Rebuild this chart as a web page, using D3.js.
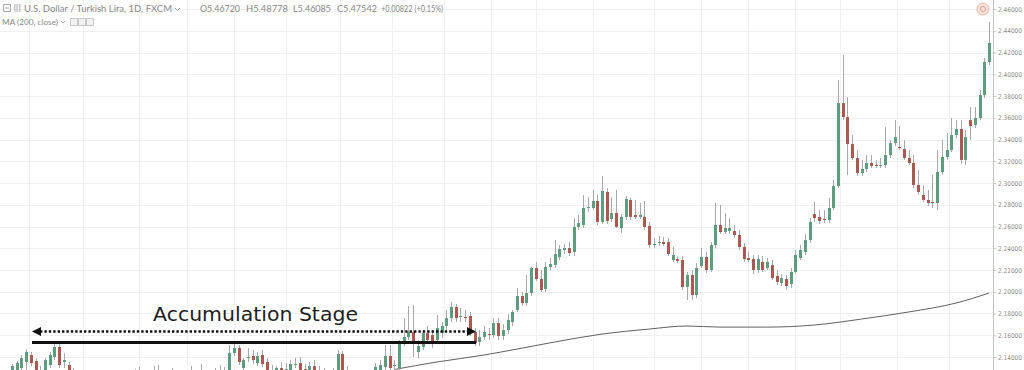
<!DOCTYPE html>
<html><head><meta charset="utf-8">
<script src="https://cdn.jsdelivr.net/npm/d3@7"></script>
<style>html,body{margin:0;padding:0;background:#fff;overflow:hidden}svg{display:block}</style>
</head><body>
<svg id="c" width="1024" height="370"></svg>
<script>
const opens = [
2.1262,2.1280,2.1298,2.1354,2.1418,2.1363,2.1280,2.1262,2.1326,2.1400,
2.1492,2.1354,2.1326,2.1234,2.1188,2.1151,2.1206,2.1170,2.1114,2.1142,
2.1097,2.1133,2.1206,2.1160,2.1105,2.1151,2.1188,2.1243,2.1197,2.1142,
2.1206,2.1262,2.1216,2.1170,2.1225,2.1188,2.1133,2.1179,2.1234,2.1206,
2.1243,2.1206,2.1160,2.1197,2.1252,2.1225,2.1280,2.1436,2.1482,2.1298,
2.1390,2.1409,2.1344,2.1418,2.1354,2.1280,2.1225,2.1298,2.1280,2.1280,
2.1326,2.1344,2.1289,2.1243,2.1317,2.1262,2.1262,2.1225,2.1188,2.1262,
2.1427,2.1280,2.1225,2.1170,2.1206,2.1197,2.1151,2.1225,2.1262,2.1308,
2.1409,2.1317,2.1298,2.1528,2.1584,2.1630,2.1446,2.1492,2.1620,2.1602,
2.1556,2.1620,2.1685,2.1758,2.1860,2.1768,2.1768,2.1777,2.1630,2.1538,
2.1584,2.1611,2.1602,2.1712,2.1593,2.1648,2.1722,2.1832,2.1961,2.1896,
2.1988,2.2218,2.2117,2.2025,2.2228,2.2246,2.2320,2.2384,2.2402,2.2366,
2.2596,2.2614,2.2770,2.2770,2.2835,2.2642,2.2918,2.2669,2.2724,2.2586,
2.2688,2.2844,2.2706,2.2688,2.2688,2.2605,2.2430,2.2448,2.2458,2.2458,
2.2292,2.2301,2.2292,2.2044,2.2154,2.1970,2.2237,2.2320,2.2200,2.2430,
2.2614,2.2550,2.2559,2.2559,2.2522,2.2412,2.2310,2.2301,2.2200,2.2274,
2.2218,2.2246,2.2145,2.2080,2.2117,2.2071,2.2182,2.2310,2.2366,2.2476,
2.2715,2.2688,2.2669,2.2660,2.2770,2.2973,2.3735,2.3606,2.3358,2.3230,
2.3092,2.3129,2.3184,2.3166,2.3157,2.3166,2.3257,2.3367,2.3331,2.3312,
2.3230,2.3184,2.2982,2.2890,2.2844,2.2826,2.2816,2.3101,2.3239,2.3303,
2.3441,2.3496,2.3212,2.3579,2.3533,2.3597,2.3809,2.4113];
const highs = [
2.1335,2.1363,2.1418,2.1473,2.1446,2.1390,2.1317,2.1390,2.1446,2.1528,
2.1519,2.1436,2.1354,2.1298,2.1262,2.1225,2.1280,2.1234,2.1188,2.1206,
2.1160,2.1243,2.1280,2.1216,2.1188,2.1225,2.1289,2.1308,2.1262,2.1234,
2.1317,2.1326,2.1280,2.1252,2.1298,2.1243,2.1216,2.1271,2.1317,2.1280,
2.1335,2.1271,2.1234,2.1298,2.1326,2.1308,2.1510,2.1519,2.1510,2.1390,
2.1482,2.1464,2.1446,2.1464,2.1390,2.1326,2.1317,2.1354,2.1344,2.1372,
2.1390,2.1400,2.1335,2.1354,2.1372,2.1317,2.1298,2.1262,2.1298,2.1464,
2.1455,2.1317,2.1280,2.1262,2.1262,2.1243,2.1243,2.1344,2.1372,2.1510,
2.1510,2.1372,2.1556,2.1758,2.1869,2.1878,2.1556,2.1648,2.1685,2.1648,
2.1786,2.1722,2.1832,2.1906,2.1887,2.1850,2.1832,2.1814,2.1666,2.1648,
2.1685,2.1666,2.1758,2.1758,2.1703,2.1795,2.1832,2.2034,2.1998,2.2154,
2.2228,2.2274,2.2200,2.2274,2.2310,2.2476,2.2430,2.2439,2.2458,2.2678,
2.2706,2.2890,2.2872,2.2936,2.2890,2.3065,2.2954,2.2872,2.2936,2.2715,
2.2881,2.2863,2.2844,2.2816,2.2835,2.2642,2.2494,2.2513,2.2504,2.2494,
2.2412,2.2329,2.2329,2.2182,2.2200,2.2264,2.2402,2.2366,2.2458,2.2816,
2.2798,2.2724,2.2678,2.2614,2.2568,2.2448,2.2366,2.2338,2.2338,2.2329,
2.2310,2.2292,2.2200,2.2163,2.2154,2.2218,2.2384,2.2430,2.2531,2.2678,
2.2826,2.2752,2.2752,2.2863,2.3028,2.3947,2.4177,2.3791,2.3441,2.3303,
2.3212,2.3257,2.3257,2.3212,2.3230,2.3515,2.3395,2.3579,2.3524,2.3395,
2.3303,2.3257,2.3120,2.2982,2.2936,2.3074,2.3303,2.3395,2.3459,2.3597,
2.3579,2.3579,2.3487,2.3698,2.3698,2.3855,2.4149,2.4481];
const lows = [
2.1206,2.1243,2.1271,2.1262,2.1317,2.1243,2.1188,2.1206,2.1298,2.1372,
2.1298,2.1298,2.1188,2.1151,2.1114,2.1097,2.1133,2.1078,2.1050,2.1078,
2.1023,2.1097,2.1133,2.1078,2.1050,2.1097,2.1133,2.1170,2.1114,2.1097,
2.1151,2.1188,2.1133,2.1114,2.1170,2.1097,2.1078,2.1133,2.1188,2.1151,
2.1188,2.1114,2.1105,2.1151,2.1188,2.1188,2.1262,2.1409,2.1326,2.1262,
2.1354,2.1335,2.1317,2.1308,2.1225,2.1170,2.1188,2.1225,2.1243,2.1243,
2.1298,2.1243,2.1206,2.1206,2.1234,2.1225,2.1151,2.1133,2.1151,2.1234,
2.1243,2.1151,2.1133,2.1133,2.1151,2.1097,2.1114,2.1188,2.1234,2.1280,
2.1280,2.1262,2.1262,2.1501,2.1556,2.1400,2.1390,2.1464,2.1519,2.1482,
2.1519,2.1574,2.1648,2.1722,2.1722,2.1722,2.1722,2.1593,2.1501,2.1501,
2.1556,2.1556,2.1574,2.1556,2.1556,2.1611,2.1685,2.1814,2.1869,2.1869,
2.1961,2.2099,2.1998,2.1998,2.2200,2.2218,2.2292,2.2347,2.2329,2.2329,
2.2568,2.2586,2.2734,2.2752,2.2614,2.2623,2.2623,2.2642,2.2586,2.2540,
2.2660,2.2660,2.2669,2.2669,2.2568,2.2402,2.2402,2.2421,2.2421,2.2329,
2.2274,2.2264,2.2016,2.1924,2.1924,2.1942,2.2218,2.2172,2.2182,2.2402,
2.2531,2.2531,2.2531,2.2494,2.2384,2.2274,2.2274,2.2163,2.2172,2.2182,
2.2200,2.2108,2.2062,2.2053,2.2016,2.2034,2.2163,2.2292,2.2338,2.2448,
2.2642,2.2623,2.2632,2.2632,2.2752,2.2954,2.3579,2.3074,2.3212,2.3065,
2.3065,2.3101,2.3138,2.3138,2.3138,2.3138,2.3230,2.3340,2.3303,2.3212,
2.3166,2.2954,2.2890,2.2826,2.2789,2.2770,2.2752,2.3074,2.3212,2.3285,
2.3413,2.3175,2.3166,2.3395,2.3505,2.3579,2.3781,2.4085];
const closes = [
2.1317,2.1344,2.1390,2.1446,2.1344,2.1280,2.1225,2.1372,2.1418,2.1492,
2.1326,2.1372,2.1234,2.1188,2.1151,2.1206,2.1170,2.1114,2.1142,2.1097,
2.1133,2.1206,2.1160,2.1105,2.1151,2.1188,2.1243,2.1197,2.1142,2.1206,
2.1262,2.1216,2.1170,2.1225,2.1188,2.1133,2.1179,2.1234,2.1206,2.1243,
2.1206,2.1160,2.1197,2.1252,2.1225,2.1280,2.1436,2.1482,2.1354,2.1372,
2.1400,2.1372,2.1409,2.1335,2.1262,2.1206,2.1298,2.1262,2.1289,2.1335,
2.1335,2.1280,2.1243,2.1317,2.1271,2.1271,2.1206,2.1188,2.1262,2.1427,
2.1280,2.1206,2.1170,2.1206,2.1197,2.1151,2.1225,2.1308,2.1326,2.1409,
2.1298,2.1326,2.1528,2.1584,2.1630,2.1528,2.1501,2.1620,2.1556,2.1528,
2.1666,2.1685,2.1758,2.1860,2.1758,2.1777,2.1758,2.1630,2.1528,2.1584,
2.1630,2.1602,2.1712,2.1593,2.1648,2.1740,2.1814,2.1961,2.1896,2.1988,
2.2218,2.2117,2.2016,2.2228,2.2255,2.2347,2.2393,2.2402,2.2356,2.2596,
2.2632,2.2770,2.2779,2.2835,2.2642,2.2927,2.2651,2.2724,2.2596,2.2688,
2.2853,2.2688,2.2688,2.2706,2.2596,2.2430,2.2439,2.2458,2.2439,2.2347,
2.2338,2.2283,2.2044,2.2154,2.1970,2.2218,2.2320,2.2200,2.2430,2.2614,
2.2550,2.2586,2.2586,2.2522,2.2412,2.2301,2.2292,2.2200,2.2301,2.2200,
2.2274,2.2126,2.2090,2.2126,2.2053,2.2182,2.2338,2.2384,2.2476,2.2642,
2.2678,2.2651,2.2660,2.2770,2.2973,2.3735,2.3606,2.3358,2.3230,2.3092,
2.3129,2.3184,2.3157,2.3157,2.3166,2.3257,2.3367,2.3422,2.3321,2.3230,
2.3184,2.2982,2.2918,2.2844,2.2816,2.2816,2.3101,2.3239,2.3303,2.3441,
2.3496,2.3212,2.3422,2.3524,2.3597,2.3809,2.4113,2.4288];

// 200-day moving average, read at selected candle indices
const maIndex = [81, 90, 100, 107, 115, 125, 135, 143, 150, 160, 170, 180, 190, 200, 207];
const maValue = [2.1285, 2.1354, 2.1418, 2.1473, 2.1538, 2.1611, 2.1657, 2.1685, 2.1675, 2.1675, 2.1694, 2.1749, 2.1814, 2.1896, 2.1988];

const yTicks = [2.14, 2.16, 2.18, 2.20, 2.22, 2.24, 2.26, 2.28, 2.30, 2.32, 2.34, 2.36, 2.38, 2.40, 2.42, 2.44, 2.46];
const timeGrid = [3.5, 15, 27, 37, 47, 58, 69.5, 80.5, 91.5, 101.5, 111, 123, 136, 146, 156, 166, 175.5, 187.5, 198.5];

const titleText = "U.S. Dollar / Turkish Lira, 1D, FXCM";
const ohlcLabels = ["O5.46720", "H5.48778", "L5.46085", "C5.47542", "+0.00822 (+0.15%)"];
const studyText = "MA (200, close)";
const annotationText = "Accumulation Stage";

const svg = d3.select("#c");
const W = 1024, H = 370, axisX = 993;
const x = d3.scaleLinear().domain([0, opens.length - 1]).range([12, 989]);
const y = d3.scaleLinear().domain([2.14, 2.46]).range([357, 9]);

// grid
const grid = svg.append("g");
grid.selectAll("line.h").data(yTicks).enter().append("line")
  .attr("x1", 0).attr("x2", axisX).attr("y1", d => Math.round(y(d)) + 0.5).attr("y2", d => Math.round(y(d)) + 0.5)
  .attr("stroke", "#f0f0f0").attr("stroke-width", 1);
grid.selectAll("line.v").data(timeGrid).enter().append("line")
  .attr("x1", d => Math.round(x(d)) + 0.5).attr("x2", d => Math.round(x(d)) + 0.5).attr("y1", 0).attr("y2", H)
  .attr("stroke", "#f0f0f0").attr("stroke-width", 1);

// MA line
const maData = maIndex.map((i, k) => [i, maValue[k]]);
svg.append("path").datum(maData)
  .attr("d", d3.line().x(d => x(d[0])).y(d => y(d[1])).curve(d3.curveMonotoneX))
  .attr("fill", "none").attr("stroke", "#606060").attr("stroke-width", 1);

// candles
const data = opens.map((o, i) => ({i, o, h: highs[i], l: lows[i], c: closes[i]}));
const up = "#5e9c80", dn = "#a9594f";
const cg = svg.append("g");
cg.selectAll("line.w").data(data).enter().append("line")
  .attr("x1", d => Math.round(x(d.i)) + 0.5).attr("x2", d => Math.round(x(d.i)) + 0.5)
  .attr("y1", d => y(d.h)).attr("y2", d => y(d.l))
  .attr("stroke", "#a8a8a8").attr("stroke-width", 1);
cg.selectAll("rect").data(data).enter().append("rect")
  .attr("x", d => Math.round(x(d.i)) - 1)
  .attr("width", 3)
  .attr("y", d => y(Math.max(d.o, d.c)))
  .attr("height", d => Math.max(1, Math.abs(y(d.o) - y(d.c))))
  .attr("fill", d => d.c >= d.o ? up : dn);

// right axis
const axis = d3.axisRight(y).tickValues(yTicks).tickFormat(d3.format(".5f")).tickSize(3).tickPadding(2);
const ag = svg.append("g").attr("transform", `translate(${axisX},0)`).call(axis);
ag.select(".domain").attr("stroke", "#c4c4c4").attr("d", `M0.5,0V${H}`);
ag.selectAll(".tick line").attr("stroke", "#c4c4c4");
ag.selectAll(".tick text").attr("fill", "#8a8a8a").attr("font-family", "DejaVu Sans, sans-serif").attr("font-size", 6.5)
  .attr("textLength", 24).attr("lengthAdjust", "spacingAndGlyphs");

// header
const hg = svg.append("g").attr("font-family", "Lato, 'DejaVu Sans', sans-serif").attr("fill", "#8a8a8a");
hg.append("rect").attr("x", 3.5).attr("y", 4.5).attr("width", 7).attr("height", 7).attr("fill", "none").attr("stroke", "#aaa");
hg.append("line").attr("x1", 5).attr("x2", 9).attr("y1", 8).attr("y2", 8).attr("stroke", "#aaa");
[14, 16.5, 19].forEach(px => hg.append("rect").attr("x", px).attr("y", 4).attr("width", 1.5).attr("height", 8).attr("fill", "#c4c4c4"));
hg.append("text").attr("x", 24).attr("y", 11.5).attr("font-size", 10).attr("textLength", 148).attr("lengthAdjust", "spacingAndGlyphs").text(titleText);
hg.append("path").attr("d", "M175,8 l2.5,2.5 l2.5,-2.5").attr("fill", "none").attr("stroke", "#999");
const ohlcX = [200, 246, 293, 337, 381];
const ohlcW = [40, 42, 38, 40, 62];
hg.selectAll("text.ohlc").data(ohlcLabels).enter().append("text")
  .attr("x", (d, k) => ohlcX[k]).attr("y", 11.5).attr("font-size", 10)
  .attr("textLength", (d, k) => ohlcW[k]).attr("lengthAdjust", "spacingAndGlyphs").text(d => d);
hg.append("text").attr("x", 2).attr("y", 24.5).attr("font-size", 7.5).attr("textLength", 56).attr("lengthAdjust", "spacingAndGlyphs").text(studyText);
hg.append("path").attr("d", "M61,21 l2,2 l2,-2").attr("fill", "none").attr("stroke", "#aaa");
[70, 78, 86].forEach(px => hg.append("rect").attr("x", px + 0.5).attr("y", 18.5).attr("width", 7).attr("height", 7).attr("fill", "#f2f2f2").attr("stroke", "#c8c8c8"));

// top-right icon
svg.append("circle").attr("cx", 983).attr("cy", 9).attr("r", 6).attr("fill", "#fbe4de").attr("stroke", "#efb2a6");
svg.append("circle").attr("cx", 983).attr("cy", 9).attr("r", 2.5).attr("fill", "none").attr("stroke", "#e49a8c");

// annotation
const an = svg.append("g");
an.append("text").attr("x", 153).attr("y", 321).attr("font-family", "DejaVu Sans, sans-serif").attr("font-size", 19)
  .attr("fill", "#1e1e1e").attr("textLength", 205).attr("lengthAdjust", "spacingAndGlyphs").text(annotationText);
an.append("line").attr("x1", 40).attr("x2", 467).attr("y1", 331.5).attr("y2", 331.5)
  .attr("stroke", "#111").attr("stroke-width", 2.6).attr("stroke-dasharray", "2.4,2");
an.append("path").attr("d", "M32,331.5 L41,327 L41,336 Z").attr("fill", "#111");
an.append("path").attr("d", "M476,331.5 L467,327 L467,336 Z").attr("fill", "#111");
an.append("line").attr("x1", 32).attr("x2", 476).attr("y1", 342.5).attr("y2", 342.5)
  .attr("stroke", "#111").attr("stroke-width", 3);
</script>
</body></html>
